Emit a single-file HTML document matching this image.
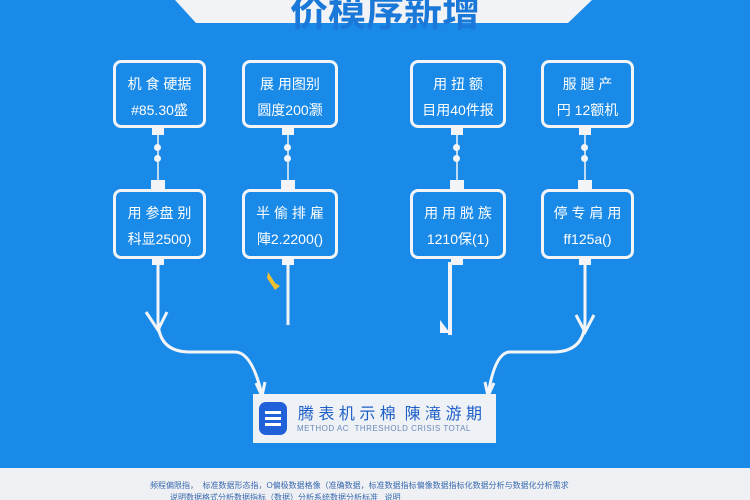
<!DOCTYPE html>
<html><head><meta charset="utf-8"><style>
html,body{margin:0;width:750px;height:500px;overflow:hidden}
body{background:#1a8ae8;font-family:"Liberation Sans","Noto Sans CJK SC",sans-serif;position:relative}
.b{position:absolute;border:3px solid #f2f4f7;border-radius:8px;box-sizing:border-box;color:#fff;text-align:center;font-size:14px;line-height:26px;padding-top:8px}
.s{position:absolute;background:#f2f4f7}
.d{position:absolute;width:7px;height:7px;border-radius:50%;background:#f2f4f7}
</style></head><body>
<svg width="750" height="500" style="position:absolute;left:0;top:0">
<polygon points="175,0 592,0 568,23 196,23" fill="#f1f3f6"/>
<g stroke="#f2f4f7" stroke-width="3" fill="none">
<path d="M158,262 V320 Q158,352 190,352 H235 Q252,352 262,395"/>
<path d="M585,262 V320 Q585,352 553,352 H510 Q495,352 488,395"/>
<path d="M146,312 L158,330 L167,312"/>
<path d="M576,315 L585,332 L594,315"/>
<path d="M256,383 L262,396 L265,382"/>
<path d="M485,382 L488,396 L494,383"/>
</g>
<line x1="288" y1="262" x2="288" y2="325" stroke="#f2f4f7" stroke-width="3"/>
<line x1="450" y1="262" x2="450" y2="335" stroke="#f2f4f7" stroke-width="4"/>
<polygon points="440,320 450,333 440,333" fill="#f2f4f7"/>
<polygon points="267,278 275,290 280,286 275,283 268,272" fill="#f0c030"/>
<g stroke="#f2f4f7" stroke-width="1.5">
<line x1="158" y1="130" x2="158" y2="185"/><line x1="288" y1="130" x2="288" y2="185"/>
<line x1="457" y1="130" x2="457" y2="185"/><line x1="585" y1="130" x2="585" y2="185"/>
</g>
</svg>
<div style="position:absolute;left:230px;top:-18px;width:310px;text-align:center;color:#1a78d8;font-size:38px;font-weight:bold">价模序新增</div>
<div class="b" style="left:113px;top:60px;width:93px;height:68px">机 食 硬据<br>#85.30盛</div>
<div class="b" style="left:242px;top:60px;width:96px;height:68px">展 用图别<br>圆度200灏</div>
<div class="b" style="left:410px;top:60px;width:96px;height:68px">用 扭 额<br>目用40件报</div>
<div class="b" style="left:541px;top:60px;width:93px;height:68px">服 腿 产<br>円 12额机</div>
<div class="b" style="left:113px;top:189px;width:93px;height:70px">用 参盘 别<br>科显2500)</div>
<div class="b" style="left:242px;top:189px;width:96px;height:70px">半 偷 排 雇<br>陣2.2200()</div>
<div class="b" style="left:410px;top:189px;width:96px;height:70px">用 用 脱 族<br>1210保(1)</div>
<div class="b" style="left:541px;top:189px;width:93px;height:70px">停 专 肩 用<br>ff125a()</div>
<div class="s" style="left:152px;top:127px;width:12px;height:8px"></div><div class="s" style="left:282px;top:127px;width:12px;height:8px"></div>
<div class="s" style="left:451px;top:127px;width:12px;height:8px"></div><div class="s" style="left:579px;top:127px;width:12px;height:8px"></div>
<div class="s" style="left:151px;top:180px;width:14px;height:10px"></div><div class="s" style="left:281px;top:180px;width:14px;height:10px"></div>
<div class="s" style="left:450px;top:180px;width:14px;height:10px"></div><div class="s" style="left:578px;top:180px;width:14px;height:10px"></div>
<div class="s" style="left:152px;top:257px;width:12px;height:8px"></div><div class="s" style="left:282px;top:257px;width:12px;height:8px"></div>
<div class="s" style="left:451px;top:257px;width:12px;height:8px"></div><div class="s" style="left:579px;top:257px;width:12px;height:8px"></div>
<div class="d" style="left:154px;top:144px"></div><div class="d" style="left:154px;top:155px"></div>
<div class="d" style="left:284px;top:144px"></div><div class="d" style="left:284px;top:155px"></div>
<div class="d" style="left:453px;top:144px"></div><div class="d" style="left:453px;top:155px"></div>
<div class="d" style="left:581px;top:144px"></div><div class="d" style="left:581px;top:155px"></div>
<div style="position:absolute;left:253px;top:394px;width:243px;height:49px;background:#eef1f5"></div>
<div style="position:absolute;left:259px;top:402px;width:28px;height:33px;background:#2060d8;border-radius:7px"></div>
<div style="position:absolute;left:265px;top:411px;width:16px;height:3px;background:#fff;box-shadow:0 6px 0 #fff,0 12px 0 #fff"></div>
<div style="position:absolute;left:298px;top:400px;color:#1f5fc8;font-size:16px;white-space:nowrap">腾 表 机 示 棉 &nbsp;陳 滝 游 期</div>
<div style="position:absolute;left:297px;top:424px;color:#6a8ab8;font-size:8px;white-space:nowrap;letter-spacing:0.5px">METHOD AC &nbsp;THRESHOLD CRISIS TOTAL</div>
<div style="position:absolute;left:0;top:468px;width:750px;height:32px;background:#eef0f3;overflow:hidden">
<div style="position:absolute;left:150px;top:12px;color:#3a6ab0;font-size:8px;white-space:nowrap">频程偏限指， &nbsp;标准数据形态指，O偏极数据格像（准确数据，标准数据指标偏像数据指标化数据分析与数据化分析需求</div>
<div style="position:absolute;left:170px;top:24px;color:#3a6ab0;font-size:8px;white-space:nowrap">说明数据格式分析数据指标（数据）分析系统数据分析标准 &nbsp; 说明</div>
</div>
</body></html>
